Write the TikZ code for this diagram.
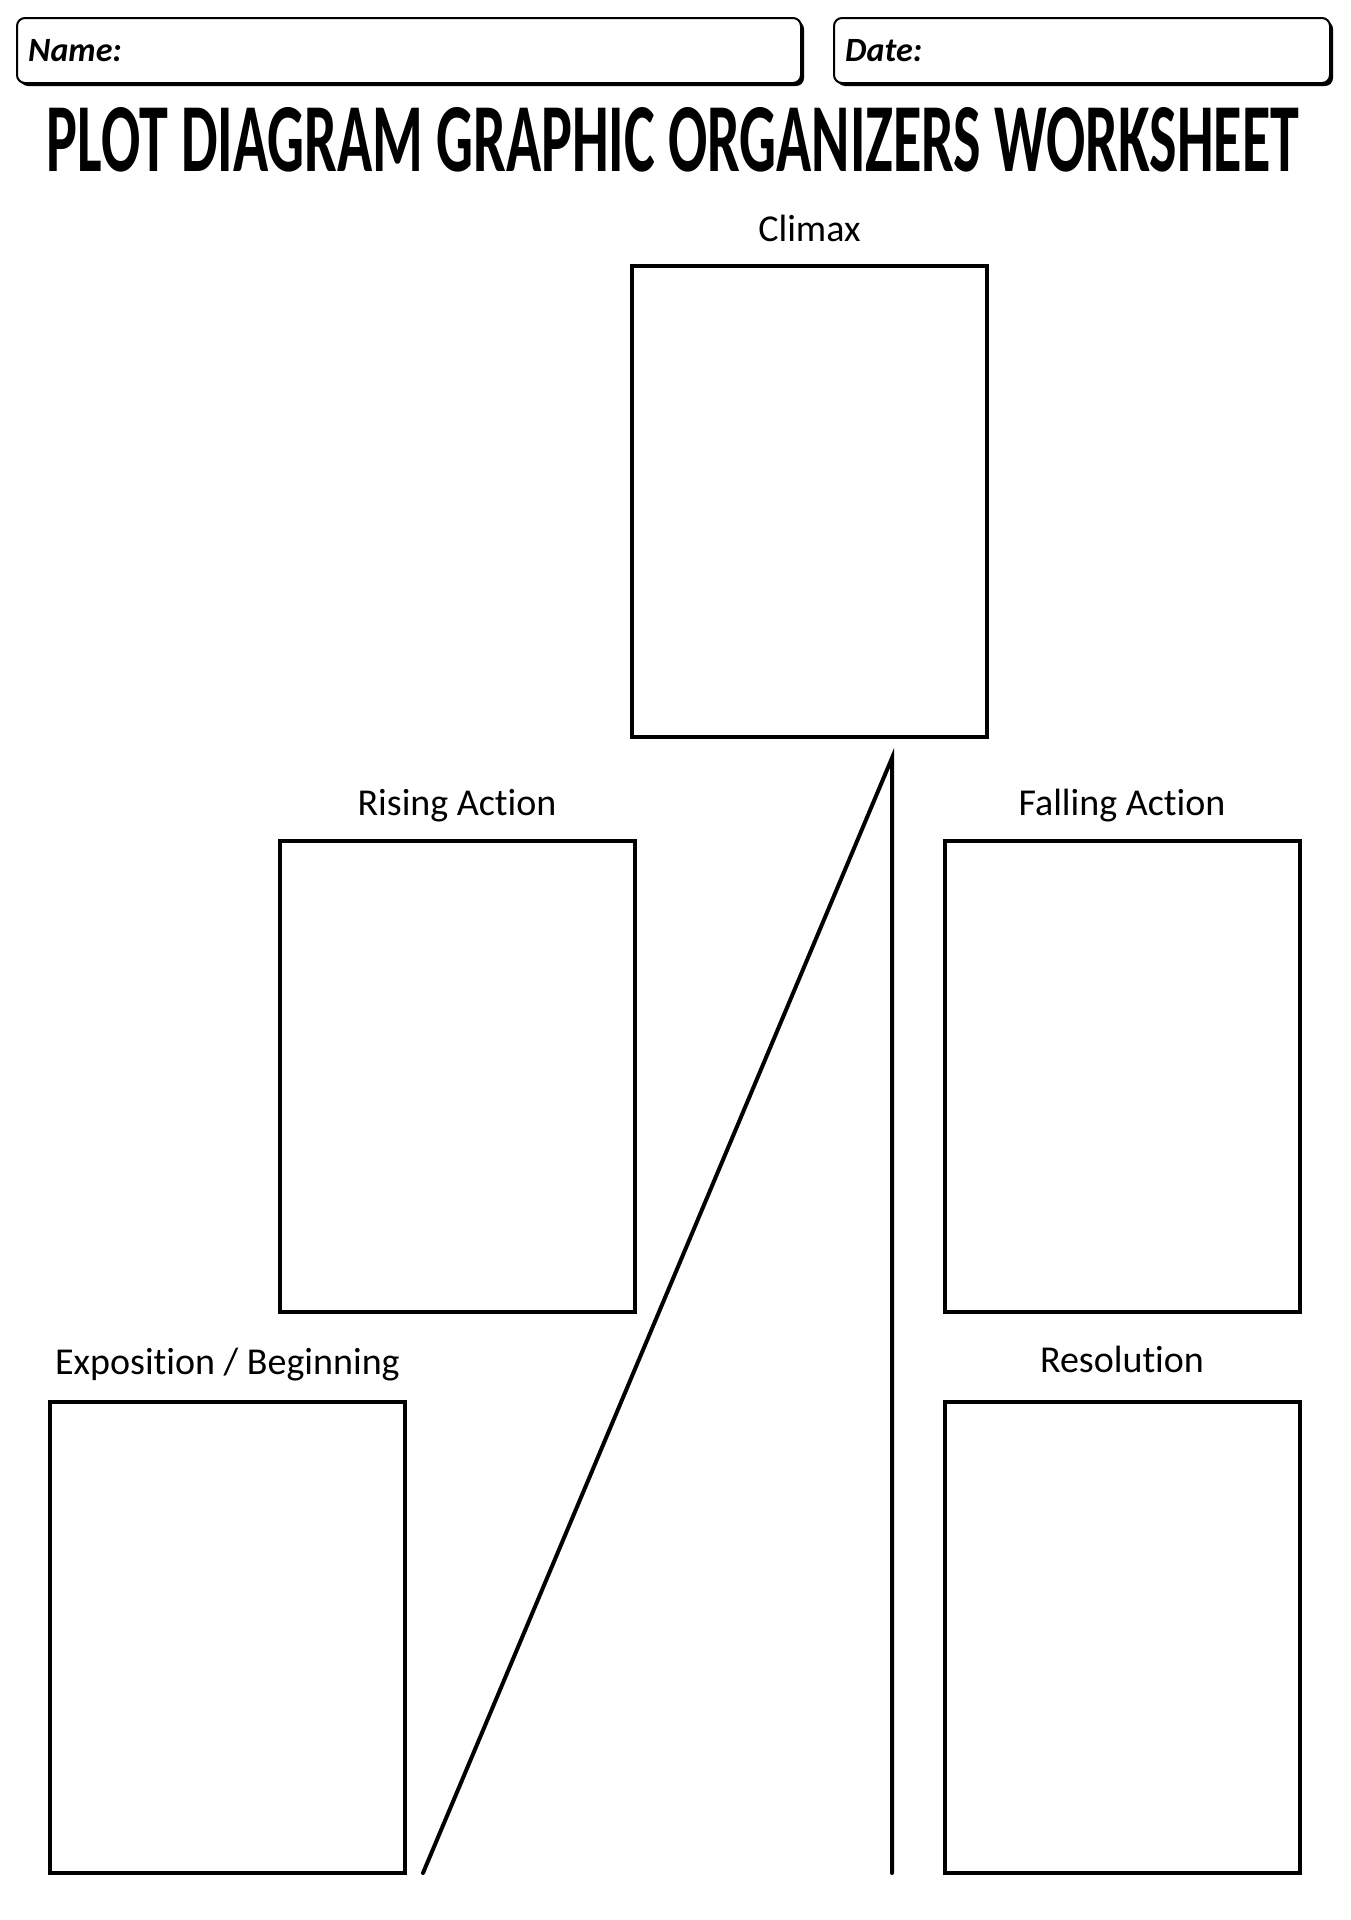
\documentclass[tikz,border=0pt]{standalone}
\usepackage{graphicx}
\usepackage{fontspec}
\setmainfont{Carlito}[Ligatures=NoCommon]
\usetikzlibrary{shadows}

\begin{document}
\begin{tikzpicture}[x=1pt, y=-1pt,
	panel/.style={draw, line width=4pt, minimum width=355pt, minimum height=471pt, inner sep=0pt},
	heading/.style={font=\fontsize{38}{44}\selectfont, anchor=base, inner sep=0pt},
	field/.style={draw, line width=2pt, rounded corners=8pt, fill=white, minimum height=65pt, inner sep=0pt,
		drop shadow={shadow xshift=3pt, shadow yshift=-3pt, opacity=1, fill=black}},
	fieldtext/.style={font=\fontsize{34}{40}\selectfont\bfseries\itshape, anchor=west, inner sep=0pt}]
	% page
	\fill[white] (0,0) rectangle (1350,1920);
	\useasboundingbox (0,0) rectangle (1350,1920);
	% name and date fields
	\node[field, minimum width=784pt] (namefield) at (409,50.5) {};
	\node[fieldtext] (namelbl) at ([xshift=12pt]namefield.west) {Name:};
	\node[field, minimum width=496pt] (datefield) at (1082,50.5) {};
	\node[fieldtext] (datelbl) at ([xshift=12pt]datefield.west) {Date:};
	% title
	\node[inner sep=0pt] (title) at (673,140) {\resizebox{1252pt}{64pt}{\bfseries PLOT DIAGRAM GRAPHIC ORGANIZERS WORKSHEET}};
	% boxes
	\node[panel] (climax) at (809.5,501.5) {};
	\node[panel] (rising) at (457,1076) {};
	\node[panel] (falling) at (1122,1076) {};
	\node[panel] (exposition) at (227.5,1637) {};
	\node[panel] (resolution) at (1122,1637) {};
	% headings
	\node[heading] (climaxlbl) at ([yshift=23pt]climax.north) {Climax};
	\node[heading] (risinglbl) at ([yshift=23pt]rising.north) {Rising Action};
	\node[heading] (fallinglbl) at ([yshift=23pt]falling.north) {Falling Action};
	\node[heading] (expositionlbl) at ([yshift=25pt]exposition.north) {Exposition / Beginning};
	\node[heading] (resolutionlbl) at ([yshift=27pt]resolution.north) {Resolution};
	% plot line
	\coordinate (plotstart) at (423,1873);
	\coordinate (plotpeak) at (892,758);
	\coordinate (plotend) at (892,1873);
	\draw[line width=4pt, line cap=round] (plotstart) -- (plotpeak) -- (plotend);
\end{tikzpicture}
\end{document}
